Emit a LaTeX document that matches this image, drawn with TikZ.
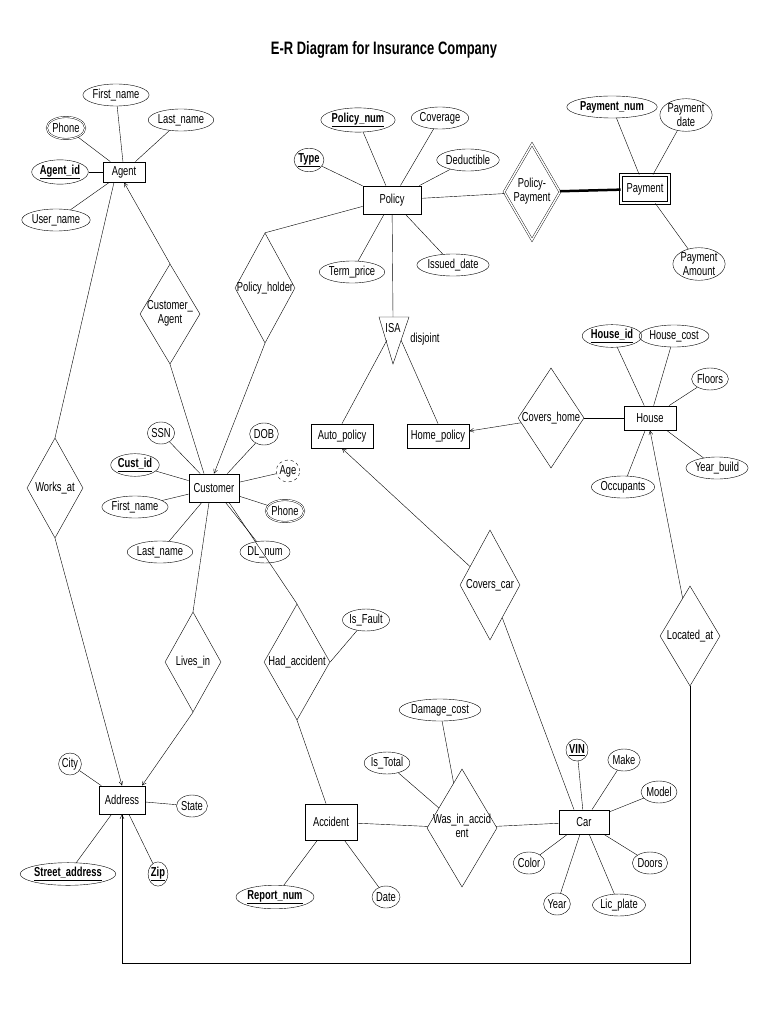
\documentclass[tikz,border=0pt]{standalone}
\usepackage{fontspec}
\setmainfont{Liberation Sans}[FakeStretch=0.72]
\usetikzlibrary{shapes.geometric,arrows.meta}
\begin{document}
\begin{tikzpicture}[x=1pt,y=-1pt,
  every node/.style={font=\fontsize{13}{14}\selectfont},
  ent/.style={draw,rectangle,minimum width=#1,minimum height=24,inner sep=1pt,line width=0.8pt},
  ent/.default=50,
  attr/.style={draw,ellipse,inner xsep=0pt,inner ysep=1.5pt,minimum height=22,thin},
  mattr/.style={attr,double,double distance=1pt},
  dattr/.style={attr,dashed},
  rel/.style n args={2}{draw,diamond,inner sep=0,minimum width=#1,minimum height=#2,thin},
  ln/.style={thin},
  arr/.style={thin,-{Straight Barb[length=4pt,width=4pt]}}]
\useasboundingbox (0,0) rectangle (768,1024);
\node[font=\fontsize{18}{20}\selectfont\bfseries] (title) at (384,50) {E-R Diagram for Insurance Company};
\newcommand{\kk}[1]{\textbf{\underline{#1}}}
% Agent
\node[ent=42,minimum height=20] (agent) at (124,172) {Agent};
\node[attr] (afn) at (116,95) {First\_name};
\node[mattr] (aph) at (66,128) {Phone};
\node[attr] (aln) at (181,120) {Last\_name};
\node[attr] (aid) at (60,172) {\kk{Agent\_id}};
\node[attr] (aun) at (56,220) {User\_name};
\foreach \a in {afn,aph,aln,aid,aun} \draw[ln] (agent) -- (\a);
% Policy
\node[ent=58,minimum height=28] (policy) at (392,200) {Policy};
\node[attr] (pnum) at (358,120) {\kk{Policy\_num}};
\node[attr] (pcov) at (440,118) {Coverage};
\node[attr] (ptype) at (309,160) {\kk{Type}};
\node[attr] (pded) at (468,160) {Deductible};
\node[attr] (pterm) at (352,272) {Term\_price};
\node[attr] (piss) at (453,265) {Issued\_date};
\foreach \a in {pnum,pcov,ptype,pded,pterm,piss} \draw[ln] (policy) -- (\a);
% Payment
\node[rel={56}{96},double,double distance=1.5pt] (pp) at (532,192) {\makebox[0pt]{\begin{tabular}{@{}c@{}}Policy-\\Payment\end{tabular}}};
\node[ent=48,minimum height=28,double,double distance=1.5pt] (pay) at (645,189) {Payment};
\node[attr] (paynum) at (612,107) {\textbf{Payment\_num}};
\node[attr,align=center,inner sep=0pt] (paydate) at (686,115) {Payment\\date};
\node[attr,align=center,inner sep=0pt] (payamt) at (699,264) {Payment\\Amount};
\foreach \a in {paynum,paydate,payamt} \draw[ln] (pay) -- (\a);
\draw[ln] (policy) -- (pp);
\draw[line width=2.5pt] (pp) -- (pay);
% ISA
\coordinate (isatop) at (393,317);
\coordinate (isal) at (379,317);
\coordinate (isar) at (409,317);
\coordinate (isab) at (393,364);
\draw[thin] (isal) -- (isar) -- (isab) -- cycle;
\node[inner sep=0] (isa) at (393,328) {ISA};
\node[inner sep=0] (disj) at (425,339) {disjoint};
\draw[ln] (policy) -- (isatop);
\node[ent=62] (auto) at (342,436) {Auto\_policy};
\node[ent=62] (home) at (438,436) {Home\_policy};
\coordinate (isa1) at (387,340);
\coordinate (isa2) at (401,340);
\draw[ln] (isa1) -- (auto.north);
\draw[ln] (isa2) -- (home.north);
% House
\node[ent=52] (house) at (650,418) {House};
\node[attr] (hid) at (612,336) {\kk{House\_id}};
\node[attr] (hcost) at (674,336) {House\_cost};
\node[attr] (hfl) at (710,379) {Floors};
\node[attr] (hyb) at (717,468) {Year\_build};
\node[attr] (hocc) at (623,487) {Occupants};
\foreach \a in {hid,hcost,hfl,hyb,hocc} \draw[ln] (house) -- (\a);
\node[rel={66}{100}] (ch) at (551,418) {\makebox[0pt]{Covers\_home}};
\draw[arr] (ch) -- (home);
\draw[ln] (ch) -- (house);
\node[rel={60}{100}] (loc) at (690,636) {\makebox[0pt]{Located\_at}};
\draw[arr] (loc) -- (house.south);
% Customer
\node[ent=50,minimum height=28] (cust) at (214,488) {Customer};
\node[attr] (cssn) at (161,433) {SSN};
\node[attr] (cdob) at (264,434) {DOB};
\node[attr] (cid) at (135,465) {\kk{Cust\_id}};
\node[dattr] (cage) at (288,471) {Age};
\node[attr] (cfn) at (135,507) {First\_name};
\node[mattr] (cph) at (285,511) {Phone};
\node[attr] (cln) at (160,552) {Last\_name};
\node[attr] (cdl) at (265,552) {DL\_num};
\foreach \a in {cssn,cdob,cid,cage,cfn,cph,cln,cdl} \draw[ln] (cust) -- (\a);
\node[rel={60}{110}] (ph) at (265,288) {\makebox[0pt]{Policy\_holder}};
\draw[ln] (policy.south west) ++(0,-8) coordinate (pw) -- (ph.north);
\draw[arr] (ph.south) -- (cust.north);
\node[rel={60}{100}] (ca) at (170,314) {\makebox[0pt]{\begin{tabular}{@{}c@{}}Customer\_\\Agent\end{tabular}}};
\draw[arr] (ca.north) -- (agent.south);
\draw[ln] (ca.south) -- ([xshift=-10pt]cust.north);
\node[rel={56}{100}] (works) at (55,488) {\makebox[0pt]{Works\_at}};
\draw[ln] (works.north) -- ([xshift=-10pt]agent.south);
% Address
\node[ent=46,minimum height=28] (addr) at (122,800) {Address};
\node[attr] (city) at (70,764) {City};
\node[attr] (state) at (192,806) {State};
\node[attr] (street) at (68,874) {\kk{Street\_address}};
\node[attr] (zip) at (158,874) {\kk{Zip}};
\foreach \a in {city,state,street,zip} \draw[ln] (addr) -- (\a);
\draw[arr] (works.south) -- (addr.north);
\node[rel={56}{100}] (lives) at (193,662) {\makebox[0pt]{Lives\_in}};
\draw[ln] (lives.north) -- ([xshift=-5pt]cust.south);
\draw[arr] (lives.south) -- ([xshift=20pt]addr.north);
\draw[arr] (loc.south) |- (122,963) coordinate (corner) -- (addr.south);
% Accident
\node[ent=52,minimum height=36] (acc) at (331,822) {Accident};
\node[attr] (rnum) at (275,897) {\kk{Report\_num}};
\node[attr] (adate) at (386,897) {Date};
\foreach \a in {rnum,adate} \draw[ln] (acc) -- (\a);
\node[rel={66}{116}] (had) at (297,662) {\makebox[0pt]{Had\_accident}};
\node[attr] (fault) at (366,620) {Is\_Fault};
\draw[ln] (had.east) -- (fault);
\draw[ln] (had.north) -- ([xshift=15pt]cust.south);
\draw[ln] (had.south) -- ([xshift=-5pt]acc.north);
\node[rel={70}{118}] (was) at (462,828) {\makebox[0pt]{\begin{tabular}{@{}c@{}}Was\_in\_accid\\ent\end{tabular}}};
\node[attr] (dmg) at (440,710) {Damage\_cost};
\node[attr] (tot) at (387,763) {Is\_Total};
\draw[ln] (was) -- (dmg);
\draw[ln] (was) -- (tot);
\draw[ln] (acc) -- (was);
% Car
\node[ent=50] (car) at (584,822) {Car};
\node[attr] (vin) at (577,750) {\kk{VIN}};
\node[attr] (make) at (624,760) {Make};
\node[attr] (model) at (659,792) {Model};
\node[attr] (doors) at (650,863) {Doors};
\node[attr] (lic) at (619,905) {Lic\_plate};
\node[attr] (year) at (557,904) {Year};
\node[attr] (color) at (529,863) {Color};
\foreach \a in {vin,make,model,doors,lic,year,color} \draw[ln] (car) -- (\a);
\draw[ln] (was) -- (car);
\node[rel={60}{110}] (cc) at (490,585) {\makebox[0pt]{Covers\_car}};
\draw[arr] (cc) -- (auto.south);
\draw[ln] (cc) -- ([xshift=-10pt]car.north);
\end{tikzpicture}
\end{document}
